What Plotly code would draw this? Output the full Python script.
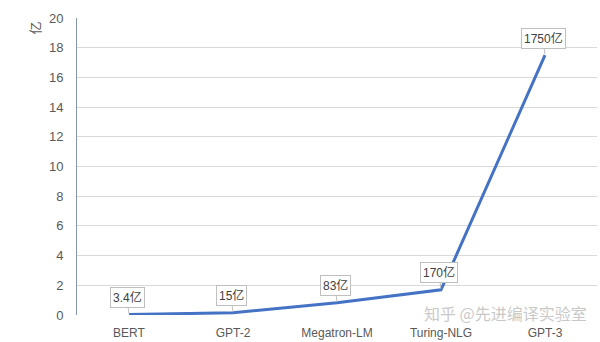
import plotly.graph_objects as go

categories = ["BERT", "GPT-2", "Megatron-LM", "Turing-NLG", "GPT-3"]
values = [0.034, 0.15, 0.83, 1.7, 17.5]
labels = ["3.4亿", "15亿", "83亿", "170亿", "1750亿"]
y_ticks = [0, 2, 4, 6, 8, 10, 12, 14, 16, 18, 20]

FONT = "Liberation Sans, Noto Sans CJK SC, sans-serif"

fig = go.Figure()
fig.add_trace(go.Scatter(
    x=categories, y=values, mode="lines",
    line=dict(color="#4472C4", width=3),
    hoverinfo="skip",
))

for c, v, t in zip(categories, values, labels):
    fig.add_annotation(
        x=c, y=v, text=t, showarrow=True, arrowhead=0, arrowwidth=1,
        arrowcolor="#bfbfbf", ax=-2, ay=-17, standoff=1,
        bgcolor="white", bordercolor="#bfbfbf", borderwidth=1, borderpad=2,
        font=dict(family=FONT, size=12, color="#404040"),
    )

fig.add_annotation(
    xref="paper", yref="paper", x=-0.08, y=1.0, text="亿", textangle=-90,
    showarrow=False, font=dict(family=FONT, size=13, color="#595959"),
    xanchor="center", yanchor="middle", yshift=-10,
)

fig.add_annotation(
    xref="paper", yref="paper", x=0.985, y=0.0, text="知乎 @先进编译实验室",
    showarrow=False, xanchor="right", yanchor="middle", yshift=2,
    font=dict(family="Noto Sans CJK SC", size=16, color="rgba(190,190,190,0.85)"),
)

fig.update_layout(
    width=600, height=342,
    margin=dict(l=77, r=3, t=18, b=27),
    paper_bgcolor="white", plot_bgcolor="white",
    showlegend=False,
    font=dict(family=FONT, size=12, color="#595959"),
)
fig.update_xaxes(
    type="category", range=[-0.5, 4.5], showgrid=False, zeroline=False,
    showline=False, ticks="", tickfont=dict(size=12, color="#595959"),
    ticklabelstandoff=9,
)
fig.update_yaxes(
    range=[0, 20], tickvals=y_ticks, showgrid=True, gridcolor="#d9d9d9",
    gridwidth=1, zeroline=False, showline=True, linecolor="#8496b0",
    linewidth=1, ticks="", tickfont=dict(size=13, color="#595959"),
    ticklabelstandoff=10,
)

fig.write_html("out.html")
